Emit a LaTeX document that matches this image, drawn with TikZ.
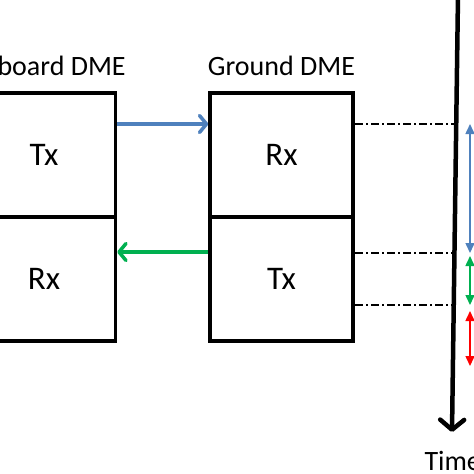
\documentclass[tikz,border=0pt]{standalone}
\usepackage{fontspec}
\setmainfont{Carlito}
\usetikzlibrary{arrows.meta}

\definecolor{dmeblue}{HTML}{4F81BD}
\definecolor{dmegreen}{HTML}{00B050}
\definecolor{dmered}{HTML}{FF0000}

\tikzset{
  halfbox/.style={draw,line width=3.5pt,minimum width=143pt,minimum height=124pt,inner sep=0pt,font=\fontsize{33}{36}\selectfont},
  boxtitle/.style={anchor=base,font=\fontsize{28}{32}\selectfont},
  signal/.style={line width=3.5pt,-{Straight Barb[length=7pt,width=17pt,round]}},
  tickline/.style={line width=1.5pt,dash pattern=on 8pt off 3pt on 2pt off 3pt},
  span/.style={line width=1.5pt,{Triangle[length=10pt,width=9pt]}-{Triangle[length=10pt,width=9pt]}}
}

\begin{document}
\begin{tikzpicture}[x=1pt,y=-1pt]
\useasboundingbox (0,0) rectangle (474,474);
\clip (0,0) rectangle (474,474);
% boxes
\node[halfbox] (obtx) at (44,155) {Tx};
\node[halfbox] (obrx) at (44,279) {Rx};
\node[halfbox] (gdrx) at (281.5,155) {Rx};
\node[halfbox] (gdtx) at (281.5,279) {Tx};
\node[boxtitle] (obtitle) at (45,75) {Onboard DME};
\node[boxtitle] (gdtitle) at (281.5,75) {Ground DME};
% time marks
\coordinate (t1) at (355,124);
\coordinate (t2) at (355,253);
\coordinate (t3) at (355,305);
\coordinate (t1e) at (454,124);
\coordinate (t2e) at (453,253);
\coordinate (t3e) at (453,305);
\coordinate (s1) at (470,124);
\coordinate (s2) at (470,253);
\coordinate (s3) at (470,256);
\coordinate (s4) at (470,305);
\coordinate (s5) at (470,311);
\coordinate (s6) at (470,366);
% time axis
\coordinate (ttop) at (458,-5);
\coordinate (tend) at (452,432);
\draw[line width=4.5pt,-{Straight Barb[length=10pt,width=24pt,round]}] (ttop) -- (tend);
\node[anchor=base west,font=\fontsize{28}{32}\selectfont] (time) at (421,470) {Time};
% signals
\draw[signal,dmeblue] (obtx.east |- t1) -- (gdrx.west |- t1);
\draw[signal,dmegreen] (gdtx.west |- 0,252) -- (obrx.east |- 0,252);
\draw[tickline] (t1) -- (t1e);
\draw[tickline] (t2) -- (t2e);
\draw[tickline] (t3) -- (t3e);
\draw[span,dmeblue] (s1) -- (s2);
\draw[span,dmegreen] (s3) -- (s4);
\draw[span,dmered] (s5) -- (s6);
\end{tikzpicture}
\end{document}
